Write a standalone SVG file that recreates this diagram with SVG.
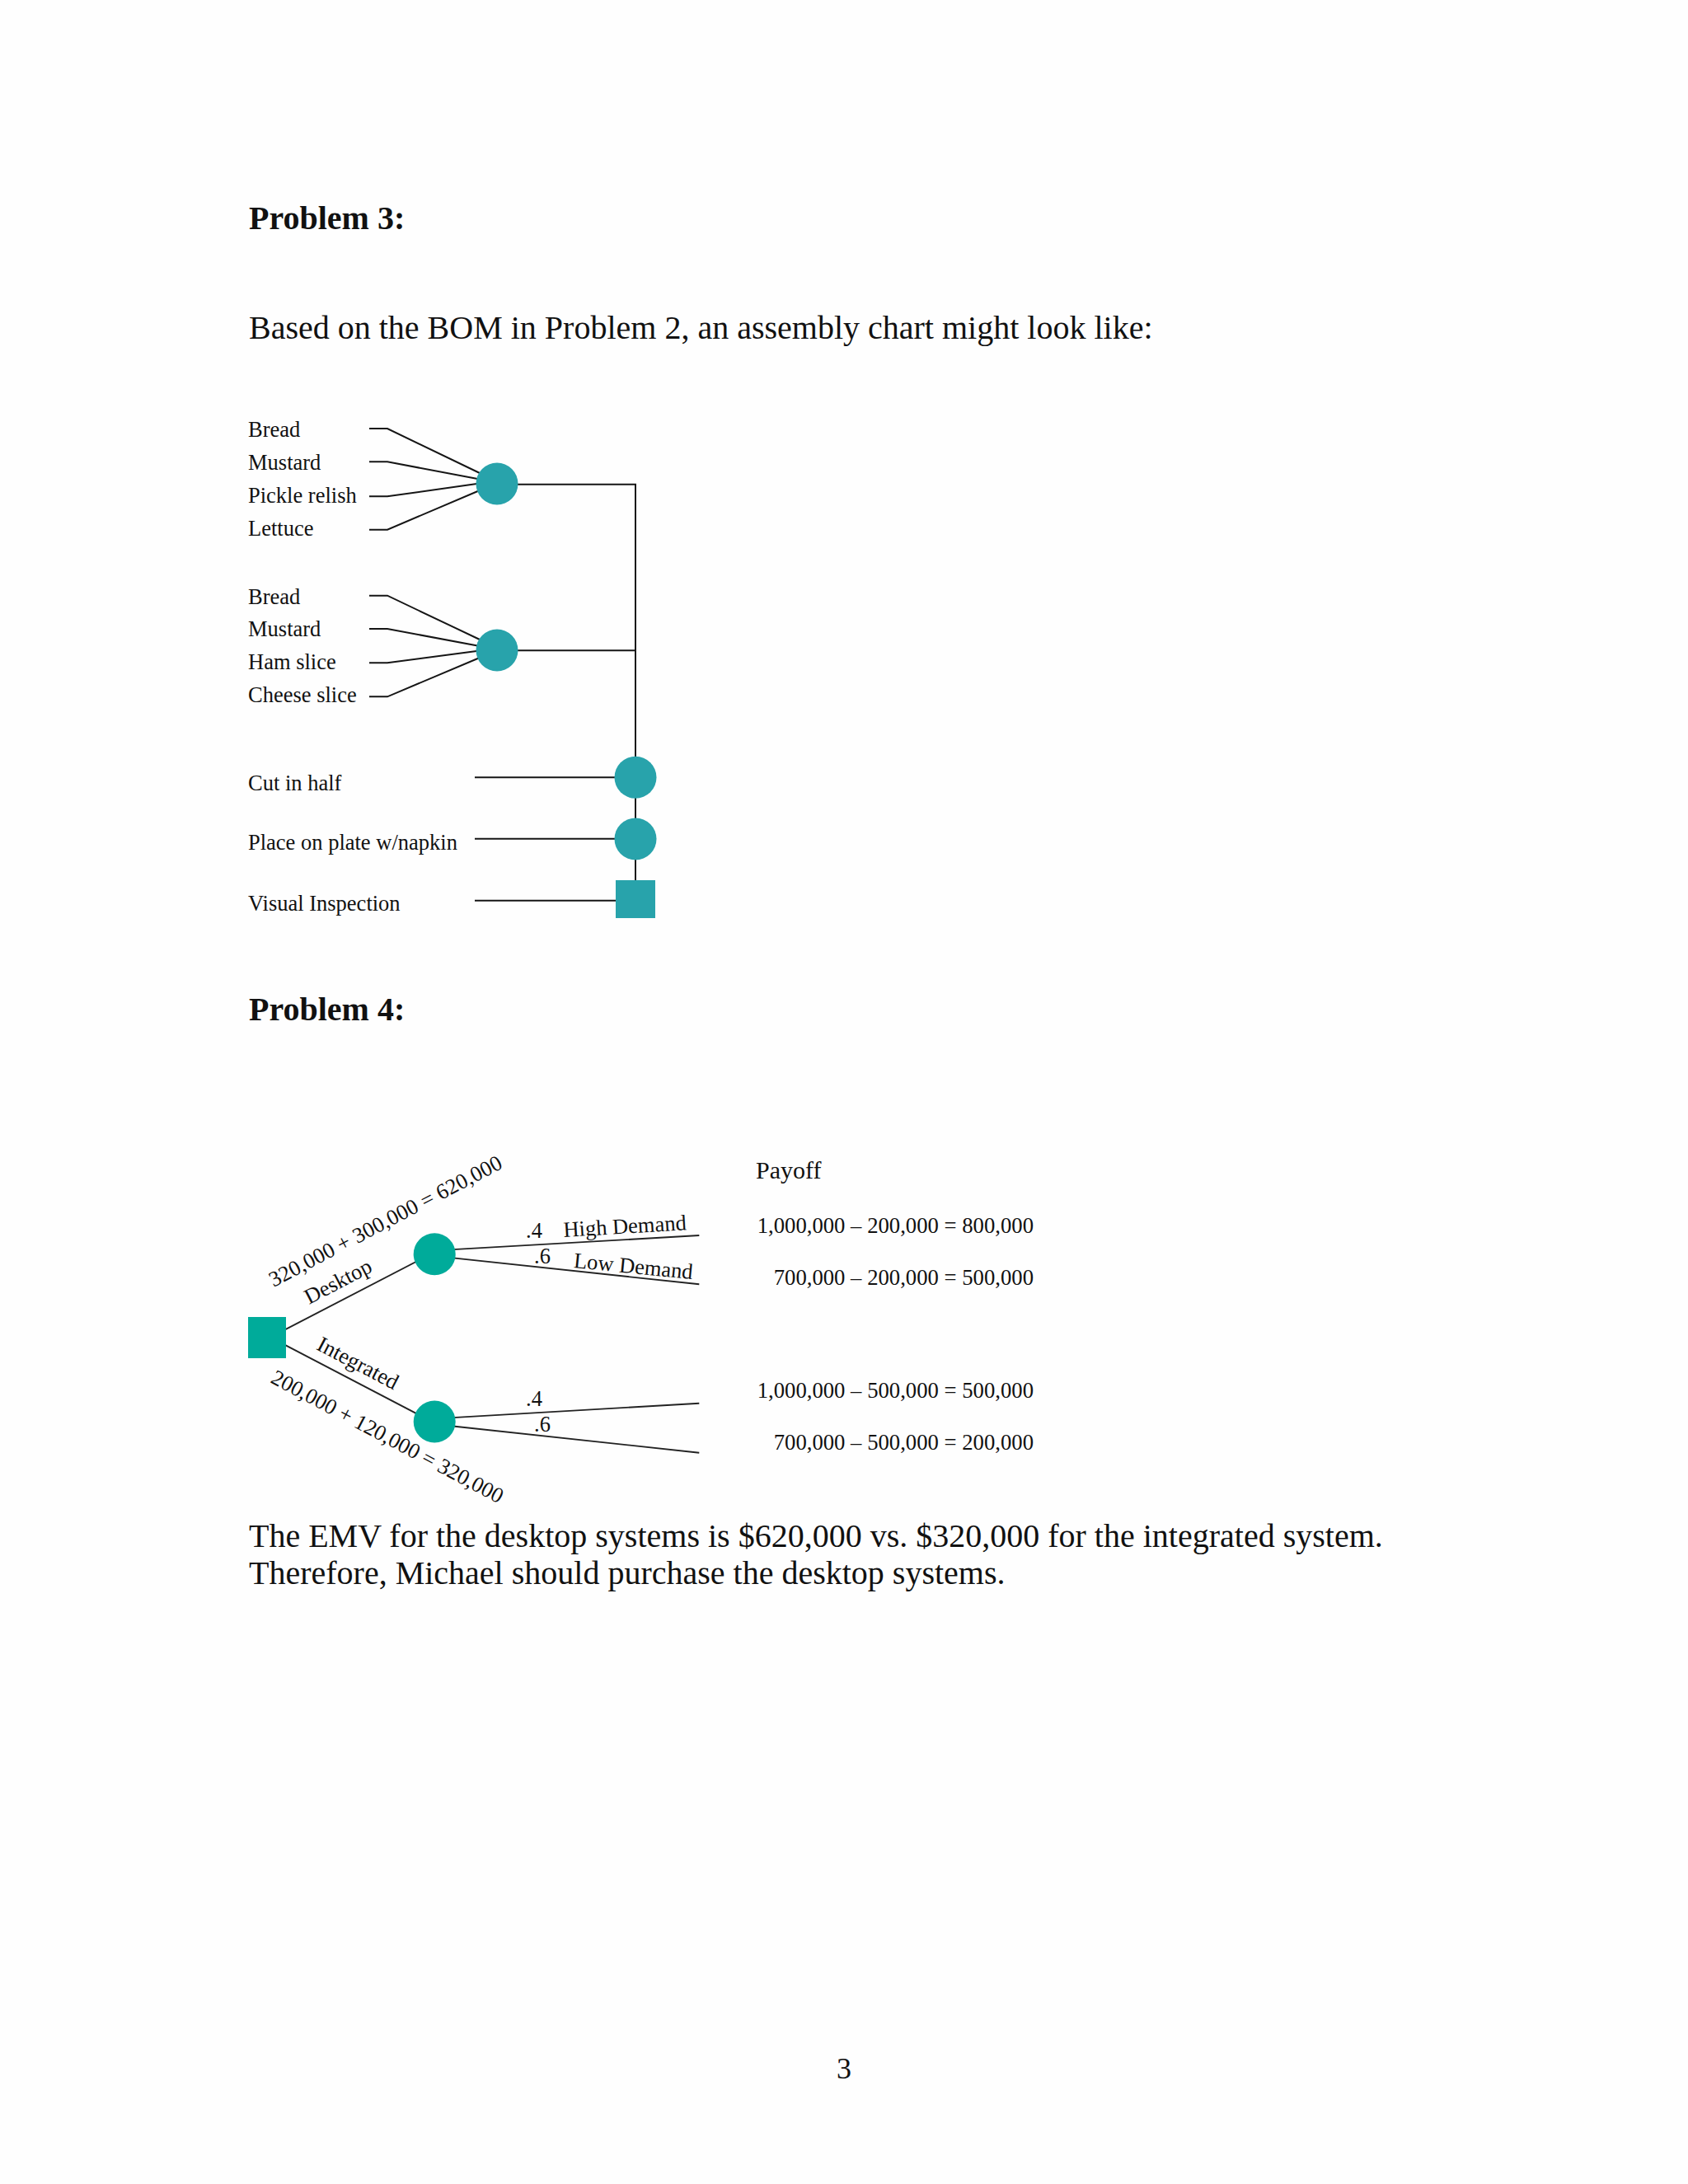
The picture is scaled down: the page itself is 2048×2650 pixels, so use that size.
<svg xmlns="http://www.w3.org/2000/svg" width="2048" height="2650" viewBox="0 0 2048 2650">
<style>
.t{font-family:"Liberation Serif","Times New Roman",serif;fill:#111}
.lbl{font-size:26.5px}
.pay{font-size:26.7px;text-anchor:end}
.h{font-size:40px;font-weight:bold}
.body{font-size:40px}
.ln{stroke:#151515;stroke-width:2;fill:none}
.tl{stroke:#222;stroke-width:1.9;fill:none}
.bom{fill:#28A3AB}
.dt{fill:#00AB9A}
</style>
<rect width="2048" height="2650" fill="#fefefe"/>
<g id="page-text">
<text class="t h" x="302" y="278">Problem 3:</text>
<text class="t body" x="302" y="411">Based on the BOM in Problem 2, an assembly chart might look like:</text>
<text class="t h" x="302" y="1238">Problem 4:</text>
<text class="t body" x="302" y="1877">The EMV for the desktop systems is $620,000 vs. $320,000 for the integrated system.</text>
<text class="t body" x="302" y="1921.5">Therefore, Michael should purchase the desktop systems.</text>
<text class="t" x="1024" y="2522" font-size="36" text-anchor="middle">3</text>
</g>
<g id="connectors">
<polyline class="ln" points="448,520 470,520 582,574"/>
<polyline class="ln" points="448,560.3 470,560.3 582,581.5"/>
<polyline class="ln" points="448,602.3 470,602.3 582,586.5"/>
<polyline class="ln" points="448,642.7 470,642.7 582,595"/>
<polyline class="ln" points="448,722.7 470,722.7 582,776"/>
<polyline class="ln" points="448,763 470,763 582,784"/>
<polyline class="ln" points="448,804.3 470,804.3 582,789.5"/>
<polyline class="ln" points="448,845.3 470,845.3 582,798"/>
<path class="ln" d="M603,587.7 H771 V1070"/>
<path class="ln" d="M603,789.3 H771"/>
<path class="ln" d="M576,943.3 H771"/>
<path class="ln" d="M576,1017.7 H771"/>
<path class="ln" d="M576,1092.7 H771"/>
<path class="tl" d="M340,1616.3 L527,1519.5"/>
<path class="tl" d="M340,1628.8 L527,1726.5"/>
<path class="tl" d="M545,1516.4 L848.3,1499"/>
<path class="tl" d="M545,1525.9 L848.3,1558.3"/>
<path class="tl" d="M545,1720.4 L848.3,1702.7"/>
<path class="tl" d="M545,1730 L848.3,1762.7"/>
</g>
<g id="node-bom-sub1"><circle class="bom" cx="603" cy="587" r="25.5"/></g>
<g id="node-bom-sub2"><circle class="bom" cx="603" cy="789" r="25.5"/></g>
<g id="node-cut"><circle class="bom" cx="771" cy="943.3" r="25.5"/></g>
<g id="node-plate"><circle class="bom" cx="771" cy="1018" r="25.5"/></g>
<g id="node-inspect"><rect class="bom" x="747" y="1068" width="48" height="46"/></g>
<g id="bom-labels">
<text class="t lbl" x="301" y="530">Bread</text>
<text class="t lbl" x="301" y="570">Mustard</text>
<text class="t lbl" x="301" y="610">Pickle relish</text>
<text class="t lbl" x="301" y="650">Lettuce</text>
<text class="t lbl" x="301" y="732.5">Bread</text>
<text class="t lbl" x="301" y="772.3">Mustard</text>
<text class="t lbl" x="301" y="812.3">Ham slice</text>
<text class="t lbl" x="301" y="852.3">Cheese slice</text>
<text class="t lbl" x="301" y="959.3">Cut in half</text>
<text class="t lbl" x="301" y="1030.7">Place on plate w/napkin</text>
<text class="t lbl" x="301" y="1105">Visual Inspection</text>
</g>
<g id="node-decision"><rect class="dt" x="301" y="1598" width="46" height="50"/></g>
<g id="node-desktop"><circle class="dt" cx="527.2" cy="1521.7" r="25.5"/></g>
<g id="node-integrated"><circle class="dt" cx="527.2" cy="1725" r="25.5"/></g>
<g id="tree-labels">
<text class="t lbl" transform="translate(332,1562) rotate(-27.5)">320,000 + 300,000 = 620,000</text>
<text class="t lbl" transform="translate(375,1583) rotate(-27.5)">Desktop</text>
<text class="t lbl" transform="translate(382.7,1636.7) rotate(27.7)">Integrated</text>
<text class="t lbl" transform="translate(327,1677) rotate(28)">200,000 + 120,000 = 320,000</text>
<text class="t lbl" x="638" y="1502">.4</text>
<text class="t lbl" transform="translate(684,1501) rotate(-3.4)">High Demand</text>
<text class="t lbl" x="648" y="1532.5">.6</text>
<text class="t lbl" transform="translate(695.5,1538) rotate(5.6)">Low Demand</text>
<text class="t lbl" x="638" y="1706">.4</text>
<text class="t lbl" x="648" y="1736.5">.6</text>
</g>
<g id="payoffs">
<text class="t" x="917" y="1429.5" font-size="30">Payoff</text>
<text class="t pay" x="1254" y="1495.7">1,000,000 – 200,000 = 800,000</text>
<text class="t pay" x="1254" y="1559">700,000 – 200,000 = 500,000</text>
<text class="t pay" x="1254" y="1695.7">1,000,000 – 500,000 = 500,000</text>
<text class="t pay" x="1254" y="1759">700,000 – 500,000 = 200,000</text>
</g>
</svg>
